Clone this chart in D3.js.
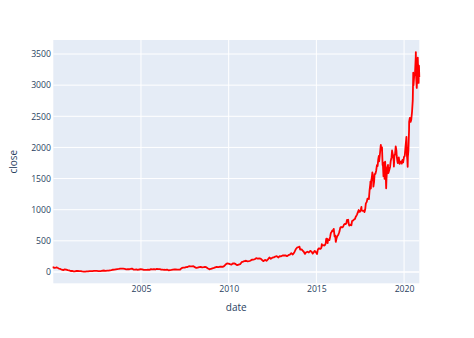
<!DOCTYPE html>
<html>
<head>
<meta charset="utf-8">
<script src="https://cdn.jsdelivr.net/npm/d3@7"></script>
<style>
  html, body { margin: 0; padding: 0; background: #fff; }
  svg { display: block; }
  text { font-family: "Open Sans", sans-serif; fill: #2a3f5f; }
</style>
</head>
<body>
<svg id="chart" width="474" height="338"></svg>
<script>
// ---- data (AMZN close) ----
const dates = [
  // 2000
  "2000-01-03","2000-01-10","2000-01-28","2000-02-28","2000-03-10","2000-03-28","2000-04-28","2000-05-28","2000-06-28","2000-07-28","2000-08-28","2000-09-28","2000-10-28","2000-11-28","2000-12-28",
  // 2001
  "2001-01-28","2001-02-28","2001-03-28","2001-04-28","2001-05-28","2001-06-28","2001-07-28","2001-08-28","2001-09-28","2001-10-28","2001-11-28","2001-12-28",
  // 2002
  "2002-01-28","2002-02-28","2002-03-28","2002-04-28","2002-05-28","2002-06-28","2002-07-28","2002-08-28","2002-09-28","2002-10-28","2002-11-28","2002-12-28",
  // 2003
  "2003-01-28","2003-02-28","2003-03-28","2003-04-28","2003-05-28","2003-06-28","2003-07-28","2003-08-28","2003-09-28","2003-10-28","2003-11-28","2003-12-28",
  // 2004
  "2004-01-28","2004-02-28","2004-03-28","2004-04-28","2004-05-28","2004-06-28","2004-07-28","2004-08-28","2004-09-28","2004-10-28","2004-11-28","2004-12-28",
  // 2005
  "2005-01-28","2005-02-28","2005-03-28","2005-04-28","2005-05-28","2005-06-28","2005-07-28","2005-08-28","2005-09-28","2005-10-28","2005-11-28","2005-12-28",
  // 2006
  "2006-01-28","2006-02-28","2006-03-28","2006-04-28","2006-05-28","2006-06-28","2006-07-28","2006-08-28","2006-09-28","2006-10-28","2006-11-28","2006-12-28",
  // 2007
  "2007-01-28","2007-02-28","2007-03-28","2007-04-28","2007-05-28","2007-06-28","2007-07-28","2007-08-28","2007-09-28","2007-10-28","2007-11-28","2007-12-28",
  // 2008
  "2008-01-28","2008-02-28","2008-03-28","2008-04-28","2008-05-28","2008-06-28","2008-07-28","2008-08-28","2008-09-28","2008-10-28","2008-11-28","2008-12-28",
  // 2009
  "2009-01-28","2009-02-28","2009-03-28","2009-04-28","2009-05-28","2009-06-28","2009-07-28","2009-08-28","2009-09-28","2009-10-28","2009-11-28","2009-12-28",
  // 2010
  "2010-01-28","2010-02-28","2010-03-28","2010-04-28","2010-05-28","2010-06-28","2010-07-28","2010-08-28","2010-09-28","2010-10-28","2010-11-28","2010-12-28",
  // 2011
  "2011-01-28","2011-02-28","2011-03-28","2011-04-28","2011-05-28","2011-06-28","2011-07-28","2011-08-28","2011-09-28","2011-10-28","2011-11-28","2011-12-28",
  // 2012
  "2012-01-28","2012-02-28","2012-03-28","2012-04-28","2012-05-28","2012-06-28","2012-07-28","2012-08-28","2012-09-28","2012-10-28","2012-11-28","2012-12-28",
  // 2013
  "2013-01-28","2013-02-28","2013-03-28","2013-04-28","2013-05-28","2013-06-28","2013-07-28","2013-08-28","2013-09-28","2013-10-28","2013-11-28","2013-12-28",
  // 2014
  "2014-01-15","2014-01-28","2014-02-28","2014-03-28","2014-04-15","2014-04-28","2014-05-08","2014-05-28","2014-06-28","2014-07-28","2014-08-28","2014-09-28","2014-10-15","2014-10-28","2014-11-28","2014-12-28",
  // 2015
  "2015-01-15","2015-01-30","2015-02-13","2015-02-27","2015-03-13","2015-03-31","2015-04-15","2015-04-24","2015-04-30","2015-05-15","2015-05-29","2015-06-15","2015-06-30","2015-07-15","2015-07-24","2015-07-31","2015-08-14","2015-08-24","2015-08-31","2015-09-15","2015-09-30","2015-10-15","2015-10-23","2015-10-30","2015-11-13","2015-11-30","2015-12-15","2015-12-29","2015-12-31",
  // 2016
  "2016-01-15","2016-01-29","2016-02-09","2016-02-29","2016-03-15","2016-03-31","2016-04-15","2016-04-29","2016-05-13","2016-05-31","2016-06-15","2016-06-30","2016-07-15","2016-07-29","2016-08-15","2016-08-31","2016-09-15","2016-09-30","2016-10-14","2016-10-25","2016-10-31","2016-11-15","2016-11-30","2016-12-15","2016-12-30",
  // 2017
  "2017-01-13","2017-01-31","2017-02-15","2017-02-28","2017-03-15","2017-03-31","2017-04-13","2017-04-28","2017-05-15","2017-05-31","2017-06-09","2017-06-15","2017-06-30","2017-07-14","2017-07-27","2017-07-31","2017-08-15","2017-08-31","2017-09-15","2017-09-29","2017-10-13","2017-10-27","2017-10-31","2017-11-15","2017-11-30","2017-12-15","2017-12-29",
  // 2018
  "2018-01-12","2018-01-29","2018-01-31","2018-02-09","2018-02-15","2018-02-28","2018-03-12","2018-03-23","2018-03-29","2018-04-02","2018-04-16","2018-04-27","2018-04-30","2018-05-15","2018-05-31","2018-06-15","2018-06-29","2018-07-13","2018-07-25","2018-07-31","2018-08-15","2018-08-31","2018-09-04","2018-09-14","2018-09-28","2018-10-11","2018-10-15","2018-10-29","2018-10-31","2018-11-08","2018-11-20","2018-11-30","2018-12-03","2018-12-14","2018-12-24","2018-12-31",
  // 2019
  "2019-01-15","2019-01-31","2019-02-08","2019-02-15","2019-02-28","2019-03-15","2019-03-29","2019-04-15","2019-04-26","2019-04-30","2019-05-15","2019-05-31","2019-06-03","2019-06-14","2019-06-28","2019-07-11","2019-07-26","2019-07-31","2019-08-15","2019-08-23","2019-08-30","2019-09-13","2019-09-30","2019-10-15","2019-10-25","2019-10-31","2019-11-15","2019-11-29","2019-12-02","2019-12-13","2019-12-31",
  // 2020
  "2020-01-15","2020-01-31","2020-02-19","2020-02-28","2020-03-09","2020-03-16","2020-03-20","2020-03-31","2020-04-14","2020-04-16","2020-04-30","2020-05-15","2020-05-29","2020-06-15","2020-06-30","2020-07-10","2020-07-15","2020-07-31","2020-08-14","2020-08-31","2020-09-02","2020-09-08","2020-09-21","2020-09-30","2020-10-12","2020-10-20","2020-10-30","2020-11-06","2020-11-13"
];
const close = [
  // 2000
  89.4, 69.0, 64.6, 68.9, 75.0, 67.0, 55.2, 48.3, 36.3, 30.1, 41.5, 38.4, 29.0, 24.7, 15.6,
  // 2001
  17.3, 10.2, 10.2, 15.8, 16.7, 14.2, 12.5, 8.9, 6.0, 7.0, 9.5, 10.8,
  // 2002
  14.2, 14.1, 14.3, 16.7, 18.2, 16.3, 14.5, 14.9, 15.9, 19.4, 23.4, 18.9,
  // 2003
  21.9, 22.0, 26.0, 28.7, 35.9, 36.3, 41.6, 46.3, 48.4, 54.4, 54.0, 52.6,
  // 2004
  50.4, 43.0, 43.3, 43.6, 48.5, 54.4, 38.9, 38.1, 40.9, 34.1, 39.7, 44.3,
  // 2005
  43.2, 35.0, 34.3, 32.4, 35.5, 33.1, 45.0, 42.7, 45.3, 39.9, 48.5, 47.2,
  // 2006
  44.8, 37.4, 36.5, 35.2, 34.6, 38.7, 26.9, 30.8, 32.1, 38.1, 40.3, 39.5,
  // 2007
  37.7, 39.1, 39.8, 61.3, 69.1, 68.4, 78.5, 79.9, 93.2, 89.2, 90.6, 92.6,
  // 2008
  77.7, 64.5, 71.3, 78.6, 81.6, 73.3, 76.3, 80.8, 72.8, 57.2, 42.7, 51.3,
  // 2009
  58.8, 64.8, 73.4, 80.5, 78.0, 83.7, 85.8, 81.2, 93.4, 118.8, 135.9, 134.5,
  // 2010
  125.4, 118.4, 135.8, 137.1, 125.5, 109.3, 117.9, 124.8, 157.1, 165.2, 175.4, 180.0,
  // 2011
  169.6, 173.3, 180.1, 195.8, 196.7, 204.5, 222.5, 215.2, 216.2, 213.5, 192.3, 173.1,
  // 2012
  194.4, 179.7, 202.5, 231.9, 212.9, 228.4, 233.3, 248.3, 254.3, 232.9, 252.1, 250.9,
  // 2013
  265.5, 264.3, 266.5, 253.8, 269.2, 277.7, 301.2, 281.0, 312.6, 364.0, 393.6, 398.8,
  // 2014
  407.0, 358.7, 362.1, 336.4, 324.0, 304.1, 290.0, 312.6, 324.8, 313.0, 339.0, 322.4, 294.0, 305.5, 338.6, 310.4,
  // 2015
  287, 354.5, 373, 380.2, 370, 372.1, 390, 445, 421.8, 427, 429.2, 425, 434.1, 460, 529, 536.2, 532, 463, 512.9, 522, 511.9, 563, 599, 625.9, 642, 664.8, 658, 693, 675.9,
  // 2016
  570, 587, 482, 552.5, 580, 593.6, 625, 659.6, 710, 722.8, 715, 715.6, 735, 758.8, 772, 769.2, 778, 837.3, 822, 838, 789.8, 745, 750.6, 760, 749.9,
  // 2017
  817, 823.5, 836, 845, 852, 886.5, 903, 925, 960, 994.6, 978, 964, 968, 1000, 1046, 987.8, 983, 980.6, 986, 961.4, 1002, 1100, 1105.3, 1126, 1176.8, 1179, 1169.5,
  // 2018
  1305, 1417, 1450.9, 1340, 1461, 1512.5, 1598, 1495, 1447.3, 1371, 1441, 1572.6, 1566.1, 1576, 1629.6, 1715, 1699.8, 1813, 1863.6, 1777.4, 1882, 2012.7, 2039.5, 1970, 2003, 1719, 1760, 1538.9, 1598, 1755, 1495.5, 1690.2, 1772, 1591, 1344, 1502,
  // 2019
  1674, 1718.7, 1588, 1607, 1639.8, 1686, 1780.8, 1844, 1950.6, 1926.5, 1871, 1775.1, 1692.7, 1870, 1893.6, 2017.4, 1943, 1866.8, 1776, 1749.6, 1776.3, 1839, 1735.9, 1767, 1761, 1776.7, 1739.5, 1800.8, 1781.6, 1760.9, 1847.8,
  // 2020
  1862, 2008.7, 2170.2, 1883.8, 1800.6, 1689.2, 1846, 1949.7, 2283, 2408, 2474, 2409.8, 2442.4, 2572.7, 2758.8, 3200, 2997, 3164.7, 3162.2, 3451, 3531.5, 3149, 2955, 3148.7, 3443, 3207, 3036.2, 3311.4, 3128.8
];
const yTicks = [0, 500, 1000, 1500, 2000, 2500, 3000, 3500];
const xTickYears = [2005, 2010, 2015, 2020];
const xTitle = "date";
const yTitle = "close";

// ---- layout ----
const plot = { left: 53.3, right: 419.3, top: 40, bottom: 283.3 };
const parse = d3.timeParse("%Y-%m-%d");
const data = dates.map((d, i) => ({ date: parse(d), close: close[i] }));

const svg = d3.select("#chart");

const x = d3.scaleTime()
  .domain(d3.extent(data, d => d.date))
  .range([plot.left, plot.right]);
const y = d3.scaleLinear()
  .domain([-182, 3725])
  .range([plot.bottom, plot.top]);

// background
svg.append("rect")
  .attr("x", plot.left).attr("y", plot.top)
  .attr("width", plot.right - plot.left)
  .attr("height", plot.bottom - plot.top)
  .attr("fill", "#E5ECF6");

const xTicks = xTickYears.map(yr => new Date(yr, 0, 1));

// grid
const grid = svg.append("g");
grid.selectAll(".gy").data(yTicks).join("line")
  .attr("x1", plot.left).attr("x2", plot.right)
  .attr("y1", d => y(d)).attr("y2", d => y(d))
  .attr("stroke", "#ffffff")
  .attr("stroke-width", d => d === 0 ? 1.6 : 1);
grid.selectAll(".gx").data(xTicks).join("line")
  .attr("x1", d => x(d)).attr("x2", d => x(d))
  .attr("y1", plot.top).attr("y2", plot.bottom)
  .attr("stroke", "#ffffff").attr("stroke-width", 1);

// axes via d3
const yAxis = d3.axisLeft(y).tickValues(yTicks).tickSize(0).tickPadding(0).tickFormat(d3.format("d"));
const gy = svg.append("g").attr("transform", `translate(${plot.left - 2.3},0)`).call(yAxis);
gy.select(".domain").remove();
gy.selectAll("text")
  .attr("font-family", "'Open Sans', sans-serif")
  .attr("font-size", 8.7).attr("fill", "#2a3f5f");

const xAxis = d3.axisBottom(x).tickValues(xTicks).tickSize(0).tickPadding(0).tickFormat(d3.timeFormat("%Y"));
const gx = svg.append("g").attr("transform", `translate(0,${plot.bottom + 3})`).call(xAxis);
gx.select(".domain").remove();
gx.selectAll("text")
  .attr("font-family", "'Open Sans', sans-serif")
  .attr("font-size", 8.7).attr("fill", "#2a3f5f");

// line
const line = d3.line().x(d => x(d.date)).y(d => y(d.close));
svg.append("path")
  .datum(data)
  .attr("d", line)
  .attr("fill", "none")
  .attr("stroke", "#ff0000")
  .attr("stroke-width", 1.8)
  .attr("stroke-linejoin", "round");

// titles
svg.append("text")
  .attr("x", (plot.left + plot.right) / 2).attr("y", 311)
  .attr("text-anchor", "middle")
  .attr("font-size", 10).text(xTitle);
svg.append("text")
  .attr("transform", `translate(16.5,${(plot.top + plot.bottom) / 2}) rotate(-90)`)
  .attr("text-anchor", "middle")
  .attr("font-size", 10).text(yTitle);
</script>
</body>
</html>
